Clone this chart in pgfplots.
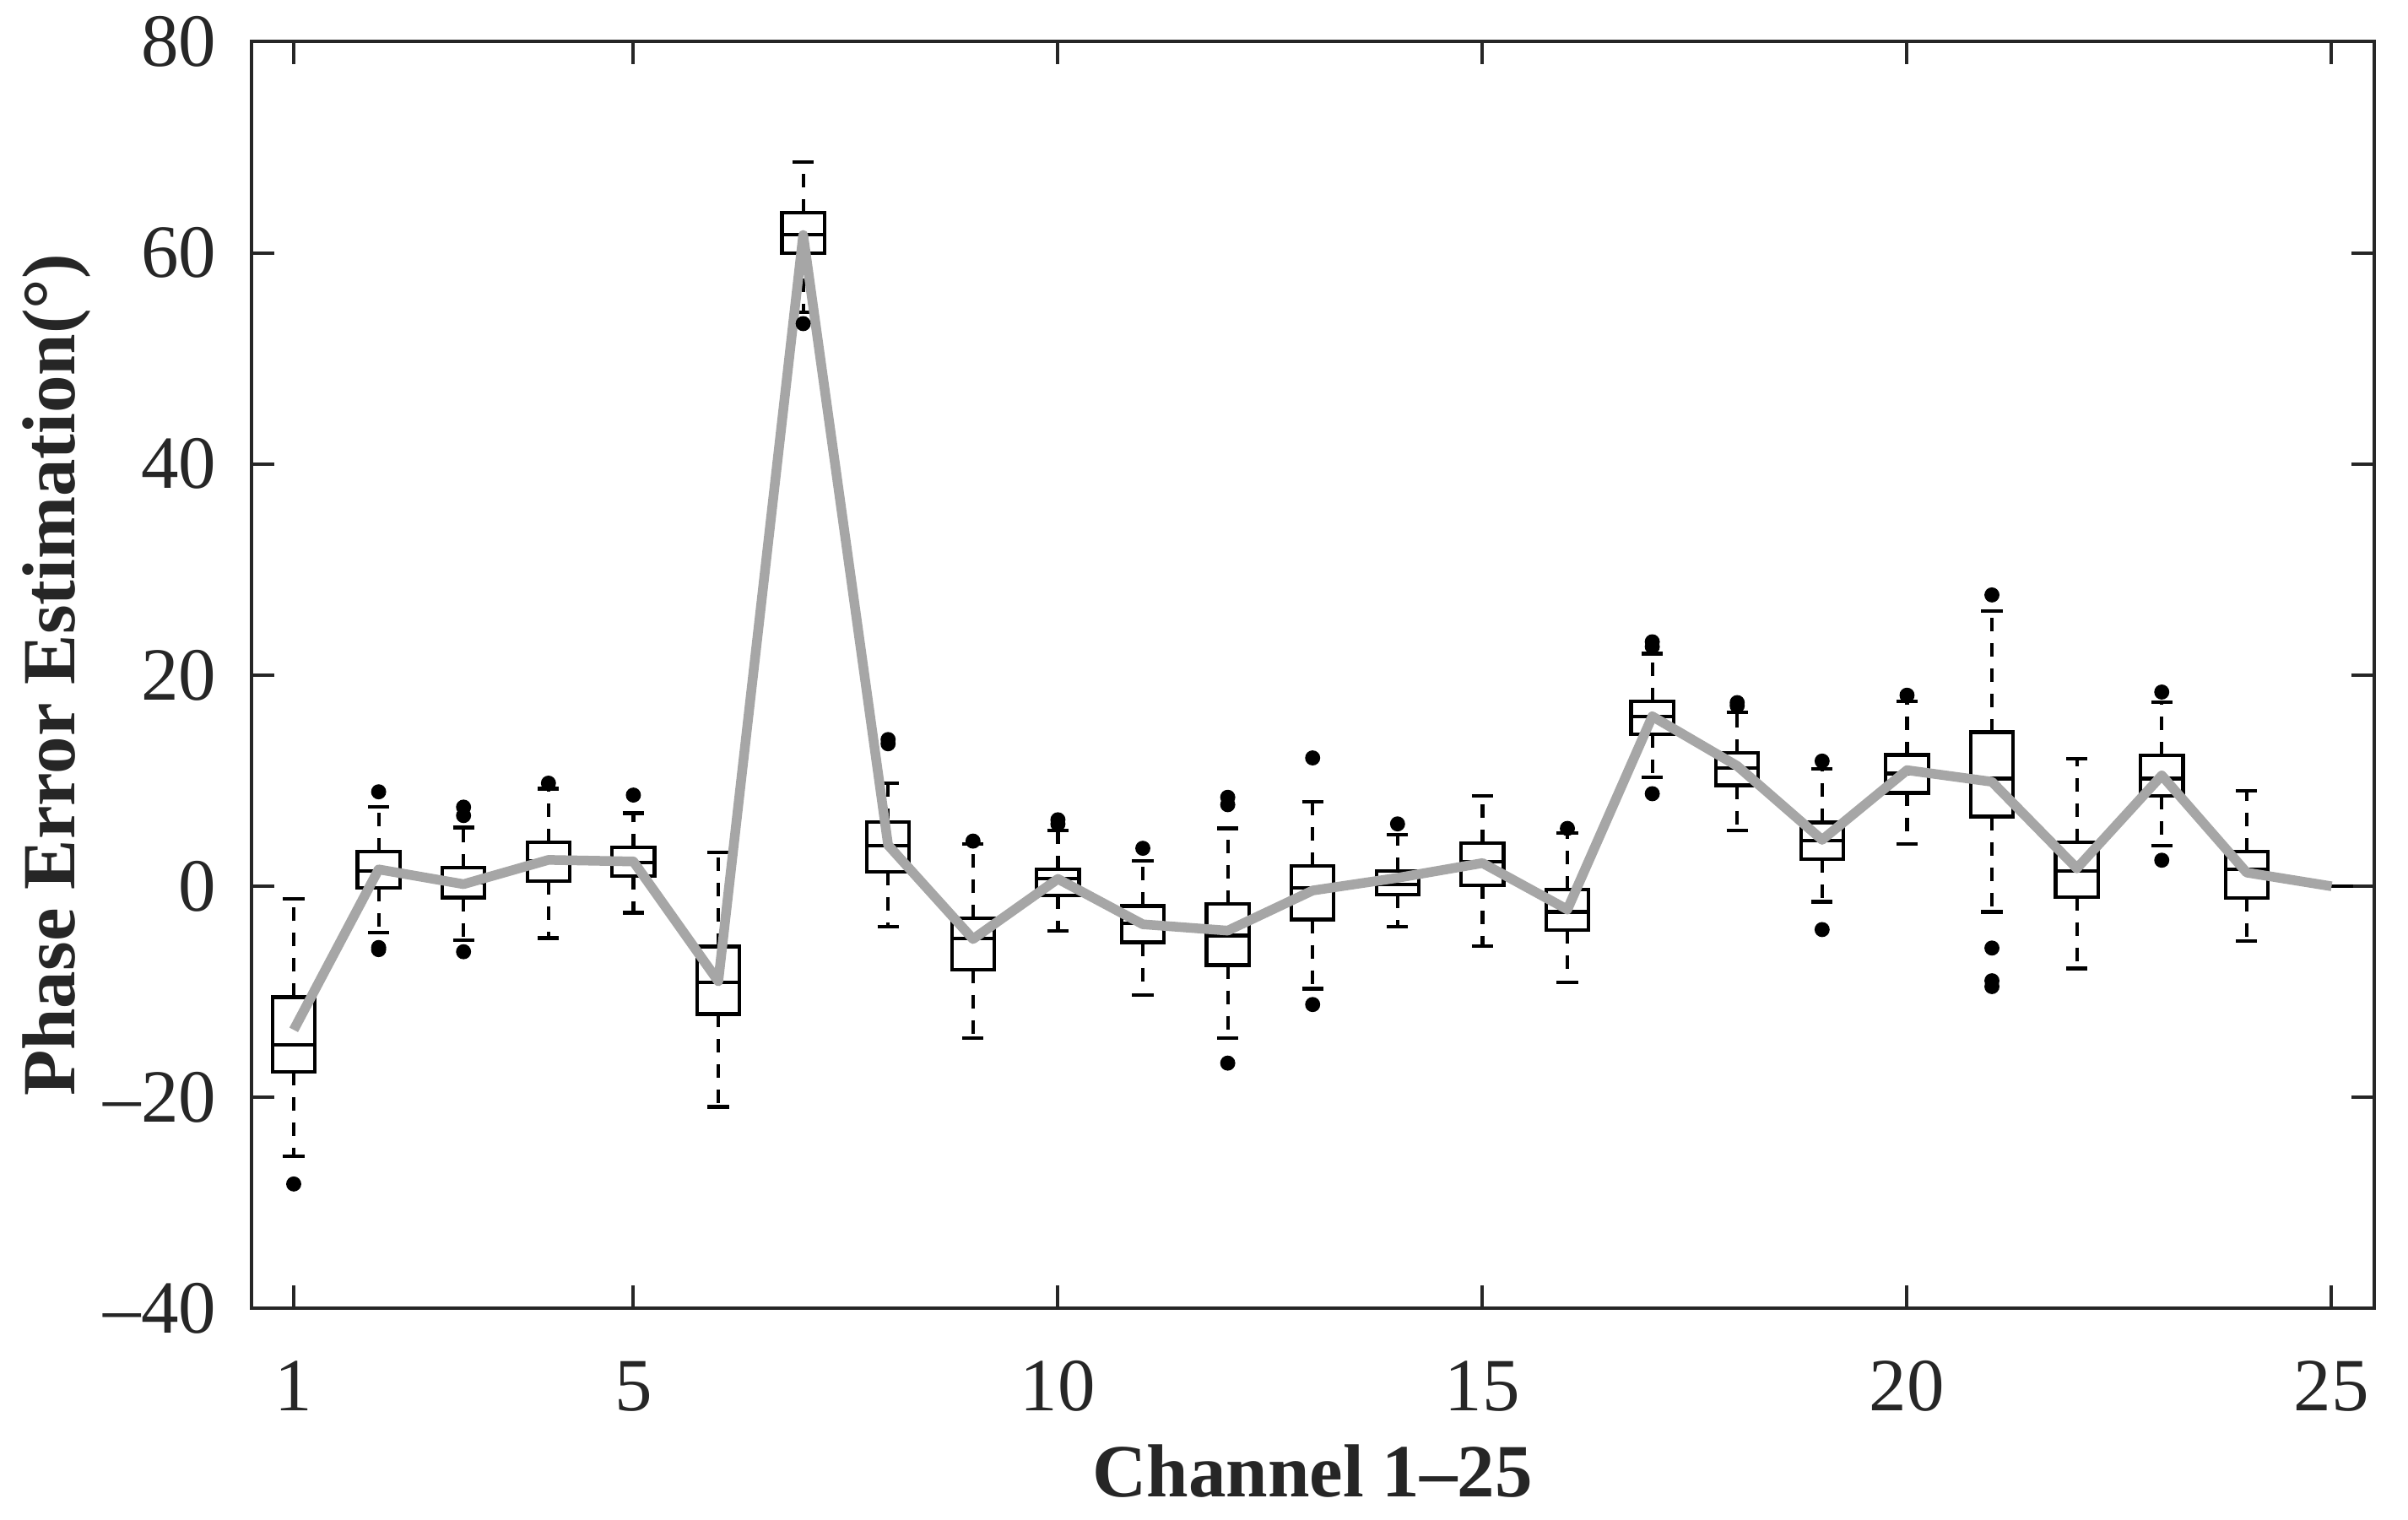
\documentclass[border=0pt]{standalone}
\usepackage{fontspec}
\setmainfont{Liberation Serif}
\usepackage{pgfplots}
\pgfplotsset{compat=1.18}
\usepgfplotslibrary{statistics}
\definecolor{axgray}{HTML}{262626}
\definecolor{lngray}{HTML}{A6A6A6}
\pgfplotsset{
  mybox/.style={
    black, line width=0.42pt, solid,
    mark=*, mark size=0.68pt, mark options={solid, fill=black, draw=black},
  },
}
\begin{document}
\begin{tikzpicture}
\path[use as bounding box] (-29.77pt,-25.04pt) rectangle (255.53pt,155.04pt);
\begin{axis}[
  at={(0pt,0pt)}, anchor=south west,
  scale only axis, width=251.5pt, height=150.1pt,
  xmin=0.5, xmax=25.5, ymin=-40, ymax=80,
  xtick={1,5,10,15,20,25}, xticklabels={1,5,10,15,20,25},
  ytick={-40,-20,0,20,40,60,80},
  yticklabels={\textendash40,\textendash20,0,20,40,60,80},
  tick align=inside, tick pos=both, major tick length=2.7pt,
  axis line style={axgray, line width=0.4pt},
  every tick/.style={axgray, line width=0.4pt},
  tick label style={font=\fontsize{8.9}{10.7}\selectfont, text=axgray},
  xticklabel style={yshift=-2.7pt},
  yticklabel style={xshift=-0.63pt},
  xlabel={Channel 1\textendash25},
  ylabel={Phase Error Estimation(°)},
  label style={font=\fontsize{8.9}{10.7}\selectfont\bfseries, text=axgray},
  xlabel style={at={(axis description cs:0.5,-0.1486)}, anchor=base},
  ylabel style={at={(axis description cs:-0.0831,0.5)}, anchor=base},
  boxplot/draw direction=y,
  boxplot/box extend=0.5,
  boxplot/draw/lower whisker/.code={%
    \draw[black, line width=0.42pt, dash pattern=on 1.6pt off 1.4pt]
      (boxplot box cs:\pgfplotsboxplotvalue{lower quartile},0.5) --
      (boxplot box cs:\pgfplotsboxplotvalue{lower whisker},0.5);
    \draw[black, line width=0.42pt, solid]
      (boxplot box cs:\pgfplotsboxplotvalue{lower whisker},0.25) --
      (boxplot box cs:\pgfplotsboxplotvalue{lower whisker},0.75);
  },
  boxplot/draw/upper whisker/.code={%
    \draw[black, line width=0.42pt, dash pattern=on 1.6pt off 1.4pt]
      (boxplot box cs:\pgfplotsboxplotvalue{upper quartile},0.5) --
      (boxplot box cs:\pgfplotsboxplotvalue{upper whisker},0.5);
    \draw[black, line width=0.42pt, solid]
      (boxplot box cs:\pgfplotsboxplotvalue{upper whisker},0.25) --
      (boxplot box cs:\pgfplotsboxplotvalue{upper whisker},0.75);
  },
]
\addplot[mybox, boxplot prepared={draw position=1, lower whisker=-25.6, lower quartile=-17.6, median=-15.05, upper quartile=-10.5, upper whisker=-1.2}]
  table[row sep=\\, y index=0] {v\\ -28.2\\};
\addplot[mybox, boxplot prepared={draw position=2, lower whisker=-4.37, lower quartile=-0.15, median=1.43, upper quartile=3.27, upper whisker=7.5}]
  table[row sep=\\, y index=0] {v\\ 8.95\\ -5.8\\ -6.0\\};
\addplot[mybox, boxplot prepared={draw position=3, lower whisker=-5.1, lower quartile=-1.07, median=0.3, upper quartile=1.8, upper whisker=5.56}]
  table[row sep=\\, y index=0] {v\\ 7.5\\ 6.7\\ -6.2\\};
\addplot[mybox, boxplot prepared={draw position=4, lower whisker=-4.9, lower quartile=0.46, median=2.4, upper quartile=4.18, upper whisker=9.25}]
  table[row sep=\\, y index=0] {v\\ 9.77\\};
\addplot[mybox, boxplot prepared={draw position=5, lower whisker=-2.5, lower quartile=0.98, median=2.23, upper quartile=3.66, upper whisker=6.93}]
  table[row sep=\\, y index=0] {v\\ 8.64\\};
\addplot[mybox, boxplot prepared={draw position=6, lower whisker=-20.9, lower quartile=-12.1, median=-9.1, upper quartile=-5.71, upper whisker=3.2}]
  coordinates {};
\addplot[mybox, boxplot prepared={draw position=7, lower whisker=54.4, lower quartile=60.0, median=61.75, upper quartile=63.8, upper whisker=68.6}]
  table[row sep=\\, y index=0] {v\\ 53.3\\};
\addplot[mybox, boxplot prepared={draw position=8, lower whisker=-3.85, lower quartile=1.35, median=3.88, upper quartile=6.09, upper whisker=9.74}]
  table[row sep=\\, y index=0] {v\\ 13.5\\ 13.9\\};
\addplot[mybox, boxplot prepared={draw position=9, lower whisker=-14.4, lower quartile=-7.9, median=-4.97, upper quartile=-3.05, upper whisker=4.0}]
  table[row sep=\\, y index=0] {v\\ 4.28\\};
\addplot[mybox, boxplot prepared={draw position=10, lower whisker=-4.25, lower quartile=-0.84, median=0.76, upper quartile=1.61, upper whisker=5.29}]
  table[row sep=\\, y index=0] {v\\ 5.9\\ 6.3\\};
\addplot[mybox, boxplot prepared={draw position=11, lower whisker=-10.28, lower quartile=-5.31, median=-3.5, upper quartile=-1.86, upper whisker=2.4}]
  table[row sep=\\, y index=0] {v\\ 3.6\\};
\addplot[mybox, boxplot prepared={draw position=12, lower whisker=-14.4, lower quartile=-7.47, median=-4.66, upper quartile=-1.66, upper whisker=5.48}]
  table[row sep=\\, y index=0] {v\\ 8.43\\ 7.73\\ -16.75\\};
\addplot[mybox, boxplot prepared={draw position=13, lower whisker=-9.7, lower quartile=-3.15, median=-0.18, upper quartile=1.93, upper whisker=8.0}]
  table[row sep=\\, y index=0] {v\\ 12.16\\ -11.2\\};
\addplot[mybox, boxplot prepared={draw position=14, lower whisker=-3.85, lower quartile=-0.77, median=0.2, upper quartile=1.47, upper whisker=4.87}]
  table[row sep=\\, y index=0] {v\\ 5.91\\};
\addplot[mybox, boxplot prepared={draw position=15, lower whisker=-5.68, lower quartile=0.1, median=2.34, upper quartile=4.08, upper whisker=8.57}]
  coordinates {};
\addplot[mybox, boxplot prepared={draw position=16, lower whisker=-9.1, lower quartile=-4.13, median=-2.42, upper quartile=-0.32, upper whisker=5.07}]
  table[row sep=\\, y index=0] {v\\ 5.48\\};
\addplot[mybox, boxplot prepared={draw position=17, lower whisker=10.31, lower quartile=14.37, median=16.08, upper quartile=17.49, upper whisker=22.03}]
  table[row sep=\\, y index=0] {v\\ 23.16\\ 22.7\\ 8.77\\};
\addplot[mybox, boxplot prepared={draw position=18, lower whisker=5.29, lower quartile=9.56, median=11.18, upper quartile=12.64, upper whisker=16.48}]
  table[row sep=\\, y index=0] {v\\ 17.4\\ 17.1\\};
\addplot[mybox, boxplot prepared={draw position=19, lower whisker=-1.47, lower quartile=2.54, median=4.36, upper quartile=6.05, upper whisker=11.1}]
  table[row sep=\\, y index=0] {v\\ 11.86\\ -4.1\\};
\addplot[mybox, boxplot prepared={draw position=20, lower whisker=4.03, lower quartile=8.85, median=10.68, upper quartile=12.44, upper whisker=17.49}]
  table[row sep=\\, y index=0] {v\\ 18.1\\};
\addplot[mybox, boxplot prepared={draw position=21, lower whisker=-2.43, lower quartile=6.6, median=10.2, upper quartile=14.6, upper whisker=26.1}]
  table[row sep=\\, y index=0] {v\\ 27.6\\ -5.85\\ -8.95\\ -9.5\\};
\addplot[mybox, boxplot prepared={draw position=22, lower whisker=-7.79, lower quartile=-1.0, median=1.48, upper quartile=4.2, upper whisker=12.09}]
  coordinates {};
\addplot[mybox, boxplot prepared={draw position=23, lower whisker=3.83, lower quartile=8.55, median=10.2, upper quartile=12.4, upper whisker=17.47}]
  table[row sep=\\, y index=0] {v\\ 18.4\\ 2.47\\};
\addplot[mybox, boxplot prepared={draw position=24, lower whisker=-5.18, lower quartile=-1.1, median=1.61, upper quartile=3.27, upper whisker=9.03}]
  coordinates {};
\addplot[mybox, boxplot prepared={draw position=25, lower whisker=0, lower quartile=0, median=0, upper quartile=0, upper whisker=0}]
  coordinates {};
\addplot[lngray, line width=1.15pt, line join=round, mark=none] coordinates {
  (1,-13.6) (2,1.6) (3,0.2) (4,2.5) (5,2.35) (6,-9.0) (7,61.7) (8,3.9)
  (9,-5.0) (10,0.7) (11,-3.6) (12,-4.2) (13,-0.4) (14,0.8) (15,2.2)
  (16,-2.2) (17,16.1) (18,11.4) (19,4.4) (20,11.0) (21,9.9) (22,1.7)
  (23,10.5) (24,1.3) (25,0)
};
\end{axis}
\end{tikzpicture}
\end{document}
